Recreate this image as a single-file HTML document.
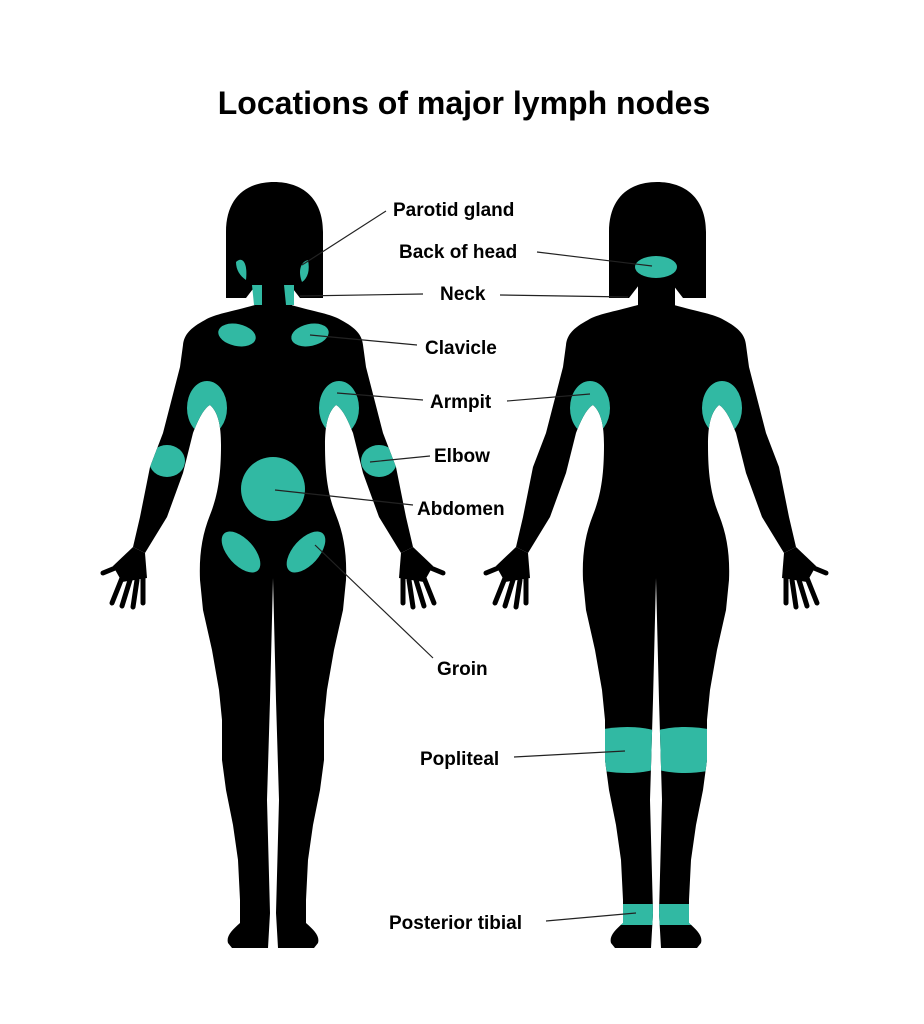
<!DOCTYPE html>
<html><head><meta charset="utf-8"><style>
html,body{margin:0;padding:0;background:#fff}
svg{display:block}
text{font-family:"Liberation Sans",sans-serif;font-weight:bold;fill:#000}
</style></head><body>
<svg width="924" height="1024" viewBox="0 0 924 1024" xmlns="http://www.w3.org/2000/svg">
<defs>
<path id="torso" d="M255,305 C230,312 215,314 205,320 C190,328 184,335 183,345 L180,367 L163,433 L150,467 L140,517 L133,547 L145,553 L167,517 L183,473 L193,433 C198,420 204,408 210,405 C218,412 221,425 221,445 C221,475 218,495 210,515 C202,535 199,555 200,580 L203,610 L212,650 L219,690 L222,720 L222,760 L226,790 L233,825 L238,860 L240,900 L240,923 C232,930 226,936 228,943 L232,948 L268,948 L270,913 L267,800 L270,700 L273,578 L276,700 L279,800 L276,913 L278,948 L314,948 L318,943 C320,936 314,930 306,923 L306,900 L308,860 L313,825 L320,790 L324,760 L324,720 L327,690 L334,650 L343,610 L346,580 C347,555 344,535 336,515 C328,495 325,475 325,445 C325,425 328,412 336,405 C342,408 348,420 353,433 L363,473 L379,517 L401,553 L413,547 L406,517 L396,467 L383,433 L366,367 L363,345 C362,335 356,328 341,320 C331,314 316,312 291,305 Z"/>
<clipPath id="clipBody"><use href="#torso"/></clipPath>
<g id="body">
  <path d="M226,298 L226,232 C226,198 246,182 274,182 C302,182 323,198 323,232 L323,298 L300,298 L290,285 L256,285 L246,298 Z" fill="#000"/>
  <rect x="255" y="270" width="37" height="45" fill="#000"/>
  <use href="#torso" fill="#000"/>
  <path d="M133,547 L145,553 L147,578 L122,582 L113,566 Z" fill="#000"/>
  <path d="M413,547 L401,553 L399,578 L424,582 L433,566 Z" fill="#000"/>
  <g stroke="#000" stroke-linecap="round" fill="none" stroke-width="5">
    <path d="M120,566 L103,573"/>
    <path d="M122,578 L112,603"/>
    <path d="M130,580 L122,606"/>
    <path d="M137,580 L133,607"/>
    <path d="M143,578 L143,603"/>
    <path d="M426,566 L443,573"/>
    <path d="M424,578 L434,603"/>
    <path d="M416,580 L424,606"/>
    <path d="M409,580 L413,607"/>
    <path d="M403,578 L403,603"/>
  </g>
</g>
</defs>

<text x="464" y="114" text-anchor="middle" font-size="32">Locations of major lymph nodes</text>

<use href="#body"/>
<g fill="#31b9a3">
  <path d="M236,262 C242,256 248,262 246,280 C240,276 236,270 236,262 Z"/>
  <path d="M308,260 C300,262 298,272 302,282 C308,278 310,270 308,260 Z"/>
  <path d="M252,285 L262,285 L262,305 L254,305 Z"/>
  <path d="M284,285 L294,285 L294,305 L286,305 Z"/>
  <g clip-path="url(#clipBody)">
    <ellipse cx="237" cy="335" rx="19" ry="11" transform="rotate(12 237 335)"/>
    <ellipse cx="310" cy="335" rx="19" ry="11" transform="rotate(-12 310 335)"/>
    <ellipse cx="207" cy="408" rx="20" ry="27"/>
    <ellipse cx="339" cy="408" rx="20" ry="27"/>
    <ellipse cx="167" cy="461" rx="18" ry="16"/>
    <ellipse cx="379" cy="461" rx="18" ry="16"/>
    <circle cx="273" cy="489" r="32"/>
    <ellipse cx="241" cy="552" rx="25" ry="13" transform="rotate(48 241 552)"/>
    <ellipse cx="306" cy="552" rx="25" ry="13" transform="rotate(-48 306 552)"/>
  </g>
</g>

<g transform="translate(383,0)">
  <use href="#body"/>
  <g fill="#31b9a3" clip-path="url(#clipBody)">
    <ellipse cx="207" cy="408" rx="20" ry="27"/>
    <ellipse cx="339" cy="408" rx="20" ry="27"/>
    <path d="M215,730 C235,726 255,726 270,730 L270,770 C255,774 235,774 215,770 Z"/>
    <path d="M276,730 C292,726 312,726 330,730 L330,770 C312,774 292,774 276,770 Z"/>
    <rect x="235" y="904" width="35" height="21"/>
    <rect x="276" y="904" width="35" height="21"/>
  </g>
  <ellipse cx="273" cy="267" rx="21" ry="11" fill="#31b9a3"/>
</g>

<g stroke="#222" stroke-width="1.2">
  <line x1="386" y1="211" x2="302" y2="265"/>
  <line x1="537" y1="252" x2="652" y2="266"/>
  <line x1="423" y1="294" x2="300" y2="296"/>
  <line x1="500" y1="295" x2="628" y2="297"/>
  <line x1="417" y1="345" x2="310" y2="335"/>
  <line x1="423" y1="400" x2="337" y2="393"/>
  <line x1="507" y1="401" x2="590" y2="394"/>
  <line x1="430" y1="456" x2="370" y2="462"/>
  <line x1="413" y1="505" x2="275" y2="490"/>
  <line x1="433" y1="658" x2="315" y2="545"/>
  <line x1="514" y1="757" x2="625" y2="751"/>
  <line x1="546" y1="921" x2="636" y2="913"/>
</g>

<g font-size="19">
  <text x="393" y="216">Parotid gland</text>
  <text x="399" y="258">Back of head</text>
  <text x="440" y="300">Neck</text>
  <text x="425" y="354">Clavicle</text>
  <text x="430" y="408">Armpit</text>
  <text x="434" y="462">Elbow</text>
  <text x="417" y="515">Abdomen</text>
  <text x="437" y="675">Groin</text>
  <text x="420" y="765">Popliteal</text>
  <text x="389" y="929">Posterior tibial</text>
</g>
</svg>
</body></html>
